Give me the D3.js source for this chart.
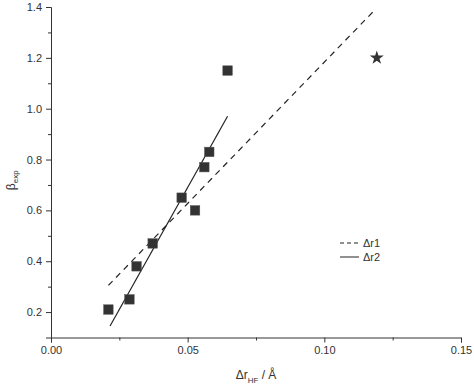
<!DOCTYPE html>
<html>
<head>
<meta charset="utf-8">
<script src="https://cdn.jsdelivr.net/npm/d3@7"></script>
<style>
  html, body { margin: 0; padding: 0; background: #fff; }
  svg { display: block; font-family: "Liberation Sans", Arial, sans-serif; }
  .tick text { fill: #333; font-size: 11px; }
  .domain, .tick line { stroke: #333; }
</style>
</head>
<body>
<svg id="chart" width="474" height="387"></svg>
<script>
// measured points (squares)
const drHF = [0.021, 0.0287, 0.0313, 0.0372, 0.0478, 0.0527, 0.0561, 0.0579, 0.0646];
const betaExp = [0.21, 0.25, 0.38, 0.47, 0.65, 0.60, 0.77, 0.83, 1.15];
// the single star point
const starX = [0.1192];
const starY = [1.20];
// fitted lines, end points
const fitR1 = [[0.021, 0.305], [0.1186, 1.39]];
const fitR2 = [[0.0216, 0.145], [0.0646, 0.97]];
const xTicks = [0, 0.05, 0.10, 0.15];
const yTicks = [0.2, 0.4, 0.6, 0.8, 1.0, 1.2, 1.4];

const svg = d3.select('#chart');
const x = d3.scaleLinear().domain([0, 0.15]).range([51, 461]);
const y = d3.scaleLinear().domain([0.1, 1.4]).range([337.5, 7]);

// axes: major ticks with labels, minor ticks without
svg.append('g').attr('transform', `translate(0,${y(0.1)})`)
  .call(d3.axisBottom(x).tickValues(xTicks).tickFormat(d3.format('.2f')).tickSizeOuter(0).tickSize(5).tickPadding(4));
svg.append('g').attr('transform', `translate(0,${y(0.1)})`)
  .call(d3.axisBottom(x).tickValues([0.025, 0.075, 0.125]).tickFormat('').tickSize(3))
  .select('.domain').remove();

svg.append('g').attr('transform', `translate(${x(0)},0)`)
  .call(d3.axisLeft(y).tickValues(yTicks).tickFormat(d3.format('.1f')).tickSizeOuter(0).tickSize(5).tickPadding(4));
svg.append('g').attr('transform', `translate(${x(0)},0)`)
  .call(d3.axisLeft(y).tickValues([0.3, 0.5, 0.7, 0.9, 1.1, 1.3]).tickFormat('').tickSize(3))
  .select('.domain').remove();

// axis titles
const yl = svg.append('text')
  .attr('transform', `translate(15,${(y(0.1) + y(1.4)) / 2 + 8}) rotate(-90)`)
  .attr('text-anchor', 'middle')
  .attr('fill', '#333').attr('font-size', 12);
yl.append('tspan').text('β');
yl.append('tspan').attr('dy', 3).attr('font-size', 8).text('exp');

const xl = svg.append('text')
  .attr('x', 256).attr('y', 379)
  .attr('text-anchor', 'middle')
  .attr('fill', '#333').attr('font-size', 12);
xl.append('tspan').text('Δr');
xl.append('tspan').attr('dy', 4).attr('font-size', 8).text('HF');
xl.append('tspan').attr('dy', -4).text(' / Å');

// fit lines
const line = d3.line().x(d => x(d[0])).y(d => y(d[1]));
svg.append('path').attr('d', line(fitR1))
  .attr('fill', 'none').attr('stroke', '#222').attr('stroke-width', 1.2)
  .attr('stroke-dasharray', '6,5');
svg.append('path').attr('d', line(fitR2))
  .attr('fill', 'none').attr('stroke', '#222').attr('stroke-width', 1.2);

// squares
const sq = 9.5;
svg.append('g').selectAll('rect')
  .data(drHF.map((v, i) => [v, betaExp[i]]))
  .join('rect')
  .attr('x', d => x(d[0]) - sq / 2)
  .attr('y', d => y(d[1]) - sq / 2)
  .attr('width', sq).attr('height', sq)
  .attr('fill', '#333').attr('stroke', '#555').attr('stroke-width', 0.5);

// star
const star = d3.symbol().type(d3.symbolStar).size(60);
svg.append('g').selectAll('path')
  .data(starX.map((v, i) => [v, starY[i]]))
  .join('path')
  .attr('transform', d => `translate(${x(d[0])},${y(d[1])})`)
  .attr('d', star)
  .attr('fill', '#333');

// legend
const leg = svg.append('g').attr('transform', 'translate(340,243)');
[['Δr1', '4,3'], ['Δr2', null]].forEach((e, i) => {
  const r = leg.append('g').attr('transform', `translate(0,${i * 14})`);
  r.append('line').attr('x1', 0).attr('x2', 19).attr('y1', 0).attr('y2', 0)
    .attr('stroke', '#222').attr('stroke-width', 1)
    .attr('stroke-dasharray', e[1]);
  r.append('text').attr('x', 23).attr('y', 4)
    .attr('fill', '#333').attr('font-size', 11).text(e[0]);
});
</script>
</body>
</html>
